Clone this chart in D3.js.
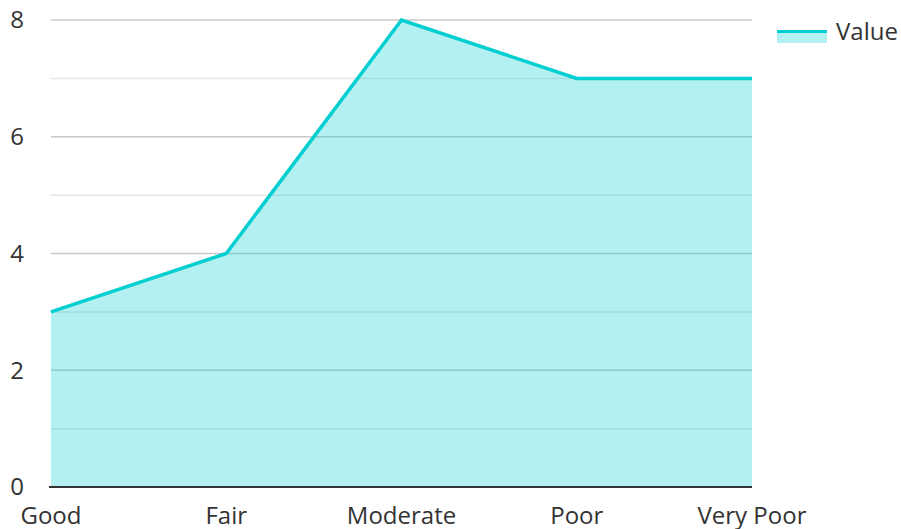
<!DOCTYPE html>
<html><head><meta charset="utf-8">
<script src="https://cdn.jsdelivr.net/npm/d3@7"></script>
<style>body{margin:0;background:#fff;} text{font-family:"Open Sans",sans-serif;}</style>
</head><body><svg id="c" width="901" height="529"></svg>
<script>
const categories = ["Good","Fair","Moderate","Poor","Very Poor"];
const values = [3,4,8,7,7];
const yTicks = [0,2,4,6,8];
const minorTicks = [1,3,5,7];
const seriesName = "Value";

const svg = d3.select("#c");
const x = d3.scalePoint().domain(categories).range([51,752]);
const y = d3.scaleLinear().domain([0,8]).range([487,20]);
const color = "#00ced1";

// grid
svg.append("g").selectAll("line").data(minorTicks).join("line")
  .attr("x1",51).attr("x2",752).attr("y1",d=>y(d)).attr("y2",d=>y(d))
  .attr("stroke","#e6e6e6").attr("stroke-width",1.5);
svg.append("g").selectAll("line").data(yTicks.filter(d=>d>0)).join("line")
  .attr("x1",51).attr("x2",752).attr("y1",d=>y(d)).attr("y2",d=>y(d))
  .attr("stroke","#c8c8c8").attr("stroke-width",1.5);

const data = categories.map((c,i)=>({c,v:values[i]}));
svg.append("path").datum(data)
  .attr("d", d3.area().x(d=>x(d.c)).y0(y(0)).y1(d=>y(d.v)))
  .attr("fill",color).attr("fill-opacity",0.3);
svg.append("path").datum(data)
  .attr("d", d3.line().x(d=>x(d.c)).y(d=>y(d.v)))
  .attr("fill","none").attr("stroke",color).attr("stroke-width",3.5).attr("stroke-linejoin","miter");

// x axis line
svg.append("line").attr("x1",49).attr("x2",752).attr("y1",y(0)).attr("y2",y(0))
  .attr("stroke","#333").attr("stroke-width",2);

// y labels
svg.append("g").selectAll("text").data(yTicks).join("text")
  .attr("x",24).attr("y",d=>y(d)).attr("dy","0.35em").attr("text-anchor","end")
  .attr("font-size",24).attr("fill","#333").text(d=>d);

// x labels
svg.append("g").selectAll("text").data(categories).join("text")
  .attr("x",d=>x(d)).attr("y",524).attr("text-anchor","middle")
  .attr("font-size",24).attr("fill","#333").text(d=>d);

// legend
const lg = svg.append("g");
lg.append("rect").attr("x",777).attr("y",32).attr("width",50).attr("height",11)
  .attr("fill",color).attr("fill-opacity",0.3);
lg.append("line").attr("x1",777).attr("x2",827).attr("y1",31.5).attr("y2",31.5)
  .attr("stroke",color).attr("stroke-width",3);
lg.append("text").attr("x",836).attr("y",32).attr("dy","0.35em")
  .attr("font-size",24).attr("fill","#333").text(seriesName);
</script></body></html>
